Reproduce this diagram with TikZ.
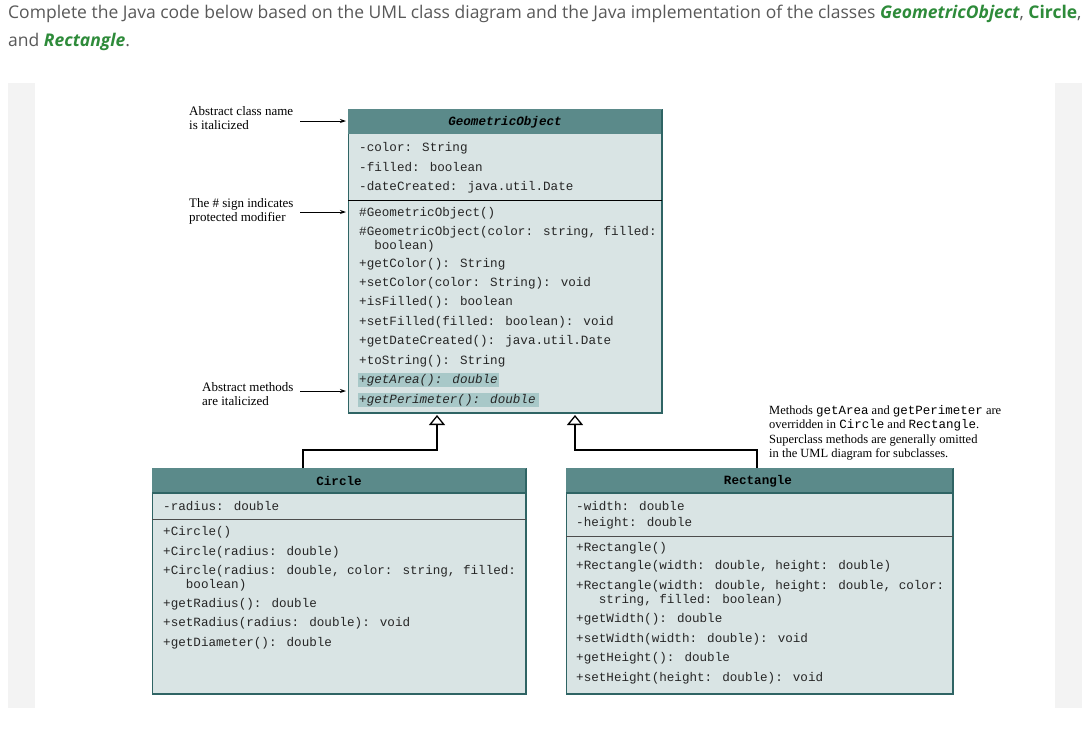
\documentclass[tikz,border=0pt]{standalone}
\usepackage{fontspec}
\setmainfont{Liberation Serif}
\newfontfamily\osans{Open Sans}
\newfontfamily\lmono{Liberation Mono}
\usetikzlibrary{arrows.meta}
\definecolor{hdr}{HTML}{5B8A8A}
\definecolor{bodyc}{HTML}{D9E4E4}
\definecolor{edge}{HTML}{2F6464}
\definecolor{hl}{HTML}{A8C8C8}
\definecolor{grn}{HTML}{2E8B3A}
\definecolor{panel}{HTML}{F3F3F3}
\tikzset{
  mono/.style={anchor=west,inner sep=0pt,font=\lmono\fontsize{12.6}{12.6}\selectfont,text=black!85},
  ttl/.style={inner sep=0pt,font=\lmono\bfseries\fontsize{12.6}{12.6}\selectfont},
  note/.style={anchor=north west,inner sep=0pt,align=left,font=\fontsize{13}{14.5}\selectfont},
  ptr/.style={-{Stealth[length=6pt,width=4pt]},line width=0.9pt},
  gen/.style={-{Triangle[open,length=10pt,width=16pt]},line width=1.3pt},
  box/.style={fill=bodyc,draw=edge,line width=0.6pt},
}
\begin{document}
\begin{tikzpicture}[x=1pt,y=-1pt]
\useasboundingbox (0,0) rectangle (1089,739);
\fill[white] (0,0) rectangle (1089,739);
\fill[panel] (8,83) rectangle (1082,708);
\fill[white] (35,83) rectangle (1055,708);
\node[anchor=west,inner sep=0pt,font=\osans\fontsize{17.5}{17.5}\selectfont,text=black!65] (t1) at (8,14) {Complete the Java code below based on the UML class diagram and the Java implementation of the classes \textcolor{grn}{\bfseries\itshape GeometricObject}, \textcolor{grn}{\bfseries Circle},};
\node[anchor=west,inner sep=0pt,font=\osans\fontsize{17.5}{17.5}\selectfont,text=black!65] (t2) at (8,42) {and \textcolor{grn}{\bfseries\itshape Rectangle}.};
% GeometricObject
\draw[box] (348,109) rectangle (662,413);
\fill[hdr] (348,109) rectangle (662,134);
\draw[edge,line width=2pt] (349,413) -- (662,413) -- (662,110);
\draw[black,line width=1pt] (348,200) -- (662,200);
\node[ttl,font=\lmono\bfseries\itshape\fontsize{12.6}{12.6}\selectfont] (gotitle) at (505,122) {GeometricObject};
\fill[hl] (358,373) rectangle (499,387);
\fill[hl] (358,393) rectangle (539,407);
\foreach \y/\t in {148/{-color: String},167/{-filled: boolean},187/{-dateCreated: java.util.Date},213/{\#GeometricObject()},232/{\#GeometricObject(color: string, filled:},246/{\ \ boolean)},264/{+getColor(): String},283/{+setColor(color: String): void},302/{+isFilled(): boolean},322/{+setFilled(filled: boolean): void},341/{+getDateCreated(): java.util.Date},361/{+toString(): String}}
  \node[mono] at (359,\y) {\t};
\node[mono,font=\lmono\itshape\fontsize{12.6}{12.6}\selectfont] (ga) at (359,380) {+getArea(): double};
\node[mono,font=\lmono\itshape\fontsize{12.6}{12.6}\selectfont] (gp) at (359,400) {+getPerimeter(): double};
% Circle
\draw[box] (152,468) rectangle (526,694);
\fill[hdr] (152,468) rectangle (526,493);
\draw[edge,line width=2pt] (153,694) -- (526,694) -- (526,469);
\draw[edge,line width=1.5pt] (152,493) -- (526,493);
\draw[black!70,line width=0.8pt] (152,519) -- (526,519);
\node[ttl] (ctitle) at (339,481) {Circle};
\foreach \y/\t in {506/{-radius: double},532/{+Circle()},552/{+Circle(radius: double)},571/{+Circle(radius: double, color: string, filled:},585/{\ \ \ boolean)},604/{+getRadius(): double},623/{+setRadius(radius: double): void},643/{+getDiameter(): double}}
  \node[mono] at (163,\y) {\t};
% Rectangle
\draw[box] (566,468) rectangle (953,694);
\fill[hdr] (566,468) rectangle (953,493);
\draw[edge,line width=2pt] (567,694) -- (953,694) -- (953,469);
\draw[edge,line width=1.5pt] (566,493) -- (953,493);
\draw[black!70,line width=0.8pt] (566,536) -- (953,536);
\node[ttl] (rtitle) at (758,481) {Rectangle};
\foreach \y/\t in {506/{-width: double},523/{-height: double},548/{+Rectangle()},566/{+Rectangle(width: double, height: double)},586/{+Rectangle(width: double, height: double, color:},600/{\ \ \ string, filled: boolean)},619/{+getWidth(): double},639/{+setWidth(width: double): void},658/{+getHeight(): double},678/{+setHeight(height: double): void}}
  \node[mono] at (576,\y) {\t};
% generalization
\coordinate (c1) at (303,468);
\coordinate (c2) at (757,468);
\draw[gen] (c1) -- (303,450) -- (437,450) -- (437,415);
\draw[gen] (c2) -- (757,450) -- (575,450) -- (575,415);
% annotations
\node[note] (n1) at (189,106) {Abstract class name\\is italicized};
\node[note] (n2) at (189,198) {The \# sign indicates\\protected modifier};
\node[note] (n3) at (202,382) {Abstract methods\\are italicized};
\coordinate (a1) at (300,121); \coordinate (b1) at (346,121);
\coordinate (a2) at (300,212); \coordinate (b2) at (346,212);
\coordinate (a3) at (300,391); \coordinate (b3) at (346,391);
\draw[ptr] (a1) -- (b1);
\draw[ptr] (a2) -- (b2);
\draw[ptr] (a3) -- (b3);
\node[note,font=\fontsize{12.5}{14.5}\selectfont] (n4) at (769,405) {Methods {\lmono getArea} and {\lmono getPerimeter} are\\overridden in {\lmono Circle} and {\lmono Rectangle}.\\Superclass methods are generally omitted\\in the UML diagram for subclasses.};
\end{tikzpicture}
\end{document}
